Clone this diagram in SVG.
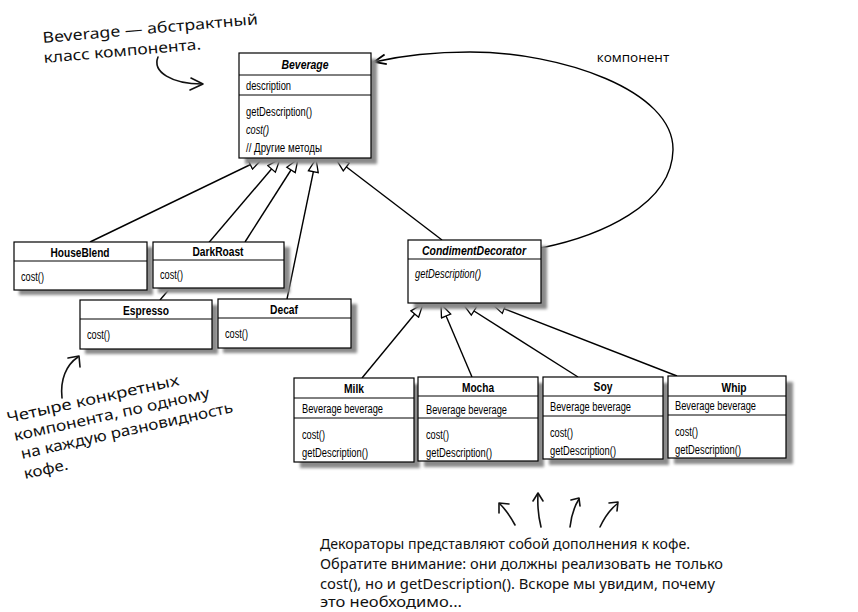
<svg xmlns="http://www.w3.org/2000/svg" width="858" height="612" viewBox="0 0 858 612">
<defs>
<filter id="sh" x="-10%" y="-10%" width="130%" height="130%"><feGaussianBlur stdDeviation="1.6"/></filter>
<marker id="gen" viewBox="0 0 14 12" refX="14" refY="6" markerWidth="14" markerHeight="12" markerUnits="userSpaceOnUse" orient="auto"><path d="M1,1 L14,6 L1,11 Z" fill="#fff" stroke="#000" stroke-width="1.3"/></marker>
<marker id="open" viewBox="0 0 14 12" refX="13" refY="6" markerWidth="14" markerHeight="12" markerUnits="userSpaceOnUse" orient="auto"><path d="M1,1 L13,6 L1,11" fill="none" stroke="#000" stroke-width="1.8"/></marker>
<style>
.box{fill:#fff;stroke:#000;stroke-width:1.2}
.shd{fill:#8a8a8a;filter:url(#sh)}
.div{stroke:#000;stroke-width:1}
.t{font-family:"Liberation Sans",Arial,sans-serif;font-size:13px;font-weight:bold;text-anchor:middle}
.ti{font-style:italic}
.m{font-family:"Liberation Sans",Arial,sans-serif;font-size:12px}
.c{fill:none;stroke:#000;stroke-width:1.4}
.h{font-family:"Noto Sans","DejaVu Sans",sans-serif;font-size:15px;fill:#111}
.hb{font-size:14.5px}
.ha{fill:none;stroke:#111;stroke-width:1.6;stroke-linecap:round;stroke-linejoin:round}
</style>
</defs>
<rect width="858" height="612" fill="#fff"/>

<g id="connectors">
<path class="c" d="M90,242 L262,159" marker-end="url(#gen)"/>
<path class="c" d="M160,300 L280,159" marker-end="url(#gen)"/>
<path class="c" d="M245,242 L298,159" marker-end="url(#gen)"/>
<path class="c" d="M287,299 L316,159" marker-end="url(#gen)"/>
<path class="c" d="M442,240 L336,159" marker-end="url(#gen)"/>
<path class="c" d="M362,378 L423,304" marker-end="url(#gen)"/>
<path class="c" d="M472,377 L441,304" marker-end="url(#gen)"/>
<path class="c" d="M578,377 L463,304" marker-end="url(#gen)"/>
<path class="c" d="M677,376 L492,304" marker-end="url(#gen)"/>
<path class="c" stroke-width="1.8" d="M541,248 C600,236 672,205 673,150 C674,90 560,52 470,52 C430,52 400,56 374,62" marker-end="url(#open)"/>
<text x="633" y="62" font-family="'Open Sans','Liberation Sans',sans-serif" font-size="13.5" text-anchor="middle">компонент</text>
</g>

<g id="Beverage">
<rect class="shd" x="245" y="59" width="132" height="105"/>
<rect class="box" x="239" y="53" width="132" height="105"/>
<line class="div" x1="239" y1="75" x2="371" y2="75"/>
<line class="div" x1="239" y1="95" x2="371" y2="95"/>
<text class="t ti" x="305" y="69" textLength="47" lengthAdjust="spacingAndGlyphs">Beverage</text>
<text class="m" x="246" y="90" textLength="45" lengthAdjust="spacingAndGlyphs">description</text>
<text class="m" x="246" y="116" textLength="66" lengthAdjust="spacingAndGlyphs">getDescription()</text>
<text class="m ti" x="246" y="134" textLength="23" lengthAdjust="spacingAndGlyphs">cost()</text>
<text class="m" x="246" y="152" textLength="76" lengthAdjust="spacingAndGlyphs">// Другие методы</text>
</g>

<g id="HouseBlend">
<rect class="shd" x="19" y="247" width="134" height="48"/>
<rect class="box" x="14" y="242" width="133" height="48"/>
<line class="div" x1="14" y1="261" x2="147" y2="261"/>
<text class="t" x="80" y="257" textLength="59" lengthAdjust="spacingAndGlyphs">HouseBlend</text>
<text class="m" x="21" y="281" textLength="23" lengthAdjust="spacingAndGlyphs">cost()</text>
</g>

<g id="DarkRoast">
<rect class="shd" x="158" y="247" width="132" height="46"/>
<rect class="box" x="153" y="242" width="131" height="46"/>
<line class="div" x1="153" y1="260" x2="284" y2="260"/>
<text class="t" x="218" y="256" textLength="51" lengthAdjust="spacingAndGlyphs">DarkRoast</text>
<text class="m" x="160" y="279" textLength="23" lengthAdjust="spacingAndGlyphs">cost()</text>
</g>

<g id="Espresso">
<rect class="shd" x="85" y="305" width="133" height="49"/>
<rect class="box" x="80" y="300" width="132" height="49"/>
<line class="div" x1="80" y1="319" x2="212" y2="319"/>
<text class="t" x="146" y="315" textLength="46" lengthAdjust="spacingAndGlyphs">Espresso</text>
<text class="m" x="87" y="339" textLength="23" lengthAdjust="spacingAndGlyphs">cost()</text>
</g>

<g id="Decaf">
<rect class="shd" x="223" y="304" width="134" height="49"/>
<rect class="box" x="218" y="299" width="133" height="49"/>
<line class="div" x1="218" y1="318" x2="351" y2="318"/>
<text class="t" x="284" y="314" textLength="28" lengthAdjust="spacingAndGlyphs">Decaf</text>
<text class="m" x="225" y="338" textLength="23" lengthAdjust="spacingAndGlyphs">cost()</text>
</g>

<g id="CondimentDecorator">
<rect class="shd" x="414" y="246" width="133" height="63"/>
<rect class="box" x="408" y="240" width="133" height="63"/>
<line class="div" x1="408" y1="259" x2="541" y2="259"/>
<text class="t ti" x="474" y="255" textLength="104" lengthAdjust="spacingAndGlyphs">CondimentDecorator</text>
<text class="m ti" x="415" y="278" textLength="66" lengthAdjust="spacingAndGlyphs">getDescription()</text>
</g>

<g id="Milk">
<rect class="shd" x="300" y="384" width="120" height="84"/>
<rect class="box" x="294" y="378" width="120" height="84"/>
<line class="div" x1="294" y1="398" x2="414" y2="398"/>
<line class="div" x1="294" y1="418" x2="414" y2="418"/>
<text class="t" x="354" y="393" textLength="20" lengthAdjust="spacingAndGlyphs">Milk</text>
<text class="m" x="302" y="413" textLength="81" lengthAdjust="spacingAndGlyphs">Beverage beverage</text>
<text class="m" x="302" y="439" textLength="23" lengthAdjust="spacingAndGlyphs">cost()</text>
<text class="m" x="302" y="457" textLength="66" lengthAdjust="spacingAndGlyphs">getDescription()</text>
</g>

<g id="Mocha">
<rect class="shd" x="424" y="383" width="120" height="84"/>
<rect class="box" x="418" y="377" width="120" height="84"/>
<line class="div" x1="418" y1="396" x2="538" y2="396"/>
<line class="div" x1="418" y1="418" x2="538" y2="418"/>
<text class="t" x="478" y="392" textLength="32" lengthAdjust="spacingAndGlyphs">Mocha</text>
<text class="m" x="426" y="414" textLength="81" lengthAdjust="spacingAndGlyphs">Beverage beverage</text>
<text class="m" x="426" y="439" textLength="23" lengthAdjust="spacingAndGlyphs">cost()</text>
<text class="m" x="426" y="457" textLength="66" lengthAdjust="spacingAndGlyphs">getDescription()</text>
</g>

<g id="Soy">
<rect class="shd" x="549" y="383" width="120" height="82"/>
<rect class="box" x="543" y="377" width="120" height="82"/>
<line class="div" x1="543" y1="396" x2="663" y2="396"/>
<line class="div" x1="543" y1="416" x2="663" y2="416"/>
<text class="t" x="603" y="391" textLength="19" lengthAdjust="spacingAndGlyphs">Soy</text>
<text class="m" x="550" y="411" textLength="81" lengthAdjust="spacingAndGlyphs">Beverage beverage</text>
<text class="m" x="550" y="437" textLength="23" lengthAdjust="spacingAndGlyphs">cost()</text>
<text class="m" x="550" y="455" textLength="66" lengthAdjust="spacingAndGlyphs">getDescription()</text>
</g>

<g id="Whip">
<rect class="shd" x="674" y="382" width="119" height="82"/>
<rect class="box" x="668" y="376" width="118" height="82"/>
<line class="div" x1="668" y1="396" x2="786" y2="396"/>
<line class="div" x1="668" y1="415" x2="786" y2="415"/>
<text class="t" x="734" y="392" textLength="25" lengthAdjust="spacingAndGlyphs">Whip</text>
<text class="m" x="675" y="410" textLength="81" lengthAdjust="spacingAndGlyphs">Beverage beverage</text>
<text class="m" x="675" y="436" textLength="23" lengthAdjust="spacingAndGlyphs">cost()</text>
<text class="m" x="675" y="454" textLength="66" lengthAdjust="spacingAndGlyphs">getDescription()</text>
</g>

<g id="note-beverage">
<text class="h" x="43" y="43" transform="rotate(-5 43 43)" textLength="216" lengthAdjust="spacingAndGlyphs">Beverage — абстрактный</text>
<text class="h" x="44" y="63" transform="rotate(-5 44 63)" textLength="158" lengthAdjust="spacingAndGlyphs">класс компонента.</text>
<path class="ha" d="M158,57 C152,72 172,84 202,84"/>
<path class="ha" d="M191,78 L203,84 L190,90"/>
</g>

<g id="note-concrete">
<text class="h" x="8" y="423" transform="rotate(-12.5 8 423)" textLength="176" lengthAdjust="spacingAndGlyphs">Четыре конкретных</text>
<text class="h" x="15" y="441" transform="rotate(-12.5 15 441)" textLength="200" lengthAdjust="spacingAndGlyphs">компонента, по одному</text>
<text class="h" x="22" y="459" transform="rotate(-12.5 22 459)" textLength="217" lengthAdjust="spacingAndGlyphs">на каждую разновидность</text>
<text class="h" x="25" y="479" transform="rotate(-12.5 25 479)" textLength="45" lengthAdjust="spacingAndGlyphs">кофе.</text>
<path class="ha" d="M62,398 C60,380 66,365 78,357"/>
<path class="ha" d="M68,358 L79,356 L80,367"/>
</g>

<g id="note-decorators">
<path class="ha" d="M515,525 Q508,512 500,504"/>
<path class="ha" d="M499,513 L499,503 L509,504"/>
<path class="ha" d="M541,527 Q537,511 538,494"/>
<path class="ha" d="M533,501 L538,493 L543,501"/>
<path class="ha" d="M570,527 Q572,510 579,499"/>
<path class="ha" d="M571,500 L579,498 L580,506"/>
<path class="ha" d="M600,527 Q607,512 617,504"/>
<path class="ha" d="M609,503 L618,502 L617,511"/>
<text class="h hb" x="320" y="549" textLength="370" lengthAdjust="spacingAndGlyphs">Декораторы представляют собой дополнения к кофе.</text>
<text class="h hb" x="320" y="569" textLength="403" lengthAdjust="spacingAndGlyphs">Обратите внимание: они должны реализовать не только</text>
<text class="h hb" x="320" y="589" textLength="395" lengthAdjust="spacingAndGlyphs">cost(), но и getDescription(). Вскоре мы увидим, почему</text>
<text class="h hb" x="320" y="607" textLength="142" lengthAdjust="spacingAndGlyphs">это необходимо...</text>
</g>
</svg>
